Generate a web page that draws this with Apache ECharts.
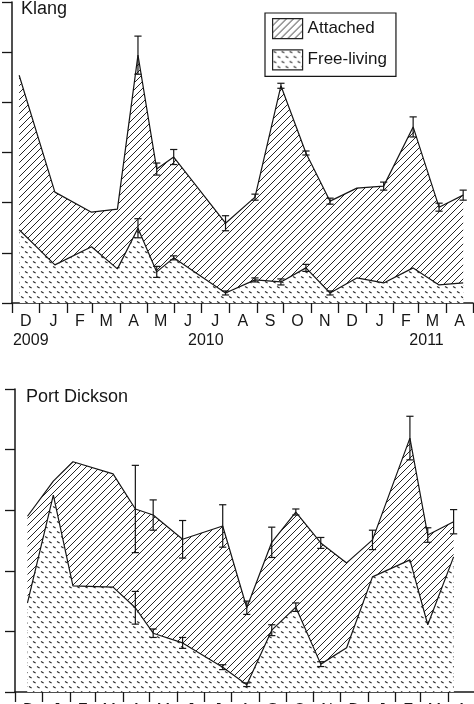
<!DOCTYPE html>
<html><head><meta charset="utf-8">
<script src="https://cdn.jsdelivr.net/npm/echarts@6/dist/echarts.min.js"></script>
<style>html,body{margin:0;padding:0;background:#fff}#c{width:474px;height:704px}</style>
</head><body><div id="c"></div>
<script>
// ---- tick labels ----
const monthLabels = ['D','J','F','M','A','M','J','J','A','S','O','N','D','J','F','M','A'];
const monthStarts = ['2009-12-01','2010-01-01','2010-02-01','2010-03-01','2010-04-01','2010-05-01','2010-06-01','2010-07-01','2010-08-01','2010-09-01','2010-10-01','2010-11-01','2010-12-01','2011-01-01','2011-02-01','2011-03-01','2011-04-01','2011-05-01'];
const yearLabels = ['2009','2010','2011'];
const yearLabelDates = ['2009-12-22','2010-07-06','2011-03-10'];

// ---- Klang ----
const klangDates = ['2009-12-09','2010-01-18','2010-02-28','2010-03-29','2010-04-21','2010-05-12','2010-05-31','2010-07-28','2010-08-30','2010-09-28','2010-10-26','2010-11-22','2010-12-22','2011-01-21','2011-02-23','2011-03-24','2011-04-20'];
const klangAttached    = [4.54,2.21,1.81,1.87,4.94,2.67,2.91,1.59,2.11,4.33,2.99,2.03,2.29,2.33,3.51,1.91,2.15];
const klangAttachedErr = [null,null,null,null,0.38,0.12,0.15,0.15,0.06,0.05,0.04,0.06,null,0.08,0.20,0.08,0.10];
const klangFree        = [1.46,0.76,1.12,0.68,1.49,0.62,0.90,0.20,0.46,0.42,0.70,0.20,0.50,0.40,0.70,0.36,0.40];
const klangFreeErr     = [null,null,null,null,0.19,0.11,0.04,0.04,0.04,0.06,0.07,0.04,null,null,null,null,null];

// ---- Port Dickson ----
const pdDates = ['2009-12-15','2010-01-13','2010-02-04','2010-03-21','2010-04-15','2010-05-05','2010-06-07','2010-07-22','2010-08-18','2010-09-15','2010-10-12','2010-11-09','2010-12-08','2011-01-06','2011-02-17','2011-03-09','2011-04-07'];
const pdAttached    = [2.90,3.48,3.80,3.60,3.02,2.92,2.52,2.74,1.39,2.47,2.97,2.46,2.13,2.51,4.19,2.59,2.81];
const pdAttachedErr = [null,null,null,null,0.72,0.25,0.31,0.35,0.11,0.25,0.05,0.09,null,0.16,0.36,0.12,0.20];
const pdFree        = [1.47,3.25,1.75,1.73,1.39,0.97,0.81,0.41,0.12,1.02,1.40,0.46,0.73,1.90,2.18,1.11,2.23];
const pdFreeErr     = [null,null,null,null,0.27,0.07,0.09,0.04,0.03,0.09,0.07,0.04,null,null,null,null,null];

const FONT = '"Liberation Sans", Arial, Helvetica, sans-serif';
const INK = '#161616';

function ts(s){ const p = s.split('-').map(Number); return Date.UTC(p[0], p[1]-1, p[2]); }
const starts = monthStarts.map(ts);
const mids = monthLabels.map((_, i) => (starts[i] + starts[i+1]) / 2);
const midLabel = {}; mids.forEach((m, i) => { midLabel[String(m)] = monthLabels[i]; });
const yearPos = yearLabelDates.map(ts);
const yearLabel = {}; yearPos.forEach((p, i) => { yearLabel[String(p)] = yearLabels[i]; });
const xMin = starts[0], xMax = starts[starts.length - 1];

function hatch(){
  const n = 7, c = document.createElement('canvas'); c.width = n; c.height = n;
  const g = c.getContext('2d'); g.fillStyle = '#fff'; g.fillRect(0,0,n,n);
  g.strokeStyle = '#1a1a1a'; g.lineWidth = 0.95;
  g.beginPath();
  g.moveTo(-1, n+1); g.lineTo(n+1, -1);
  g.moveTo(-1, 1); g.lineTo(1, -1);
  g.moveTo(n-1, n+1); g.lineTo(n+1, n-1);
  g.stroke();
  return {image: c, repeat: 'repeat'};
}
function dashes(){
  const w = 8, h = 10, c = document.createElement('canvas'); c.width = w; c.height = h;
  const g = c.getContext('2d'); g.fillStyle = '#fff'; g.fillRect(0,0,w,h);
  g.strokeStyle = '#2a2a2a'; g.lineWidth = 1.1;
  g.beginPath();
  g.moveTo(1.0, 1.5); g.lineTo(3.6, 3.0);
  g.moveTo(5.0, 6.5); g.lineTo(7.6, 8.0);
  g.stroke();
  return {image: c, repeat: 'repeat'};
}
const HATCH = hatch(), DASH = dashes();

function pairs(dates, vals){ return dates.map((d, i) => [ts(d), vals[i]]); }
function errData(dates, vals, errs){
  const out = [];
  dates.forEach((d, i) => { if (errs[i] != null) out.push([ts(d), vals[i] - errs[i], vals[i] + errs[i]]); });
  return out;
}
function renderErr(params, api){
  const x = api.value(0), lo = api.value(1), hi = api.value(2);
  const a = api.coord([x, lo]), b = api.coord([x, hi]);
  const hw = 3.6, st = {stroke: INK, lineWidth: 1.2};
  return {type: 'group', children: [
    {type: 'line', shape: {x1: a[0], y1: a[1], x2: b[0], y2: b[1]}, style: st},
    {type: 'line', shape: {x1: a[0]-hw, y1: a[1], x2: a[0]+hw, y2: a[1]}, style: st},
    {type: 'line', shape: {x1: b[0]-hw, y1: b[1], x2: b[0]+hw, y2: b[1]}, style: st}
  ]};
}

function monthAxis(gridIndex){
  return {
    type: 'value', gridIndex, position: 'bottom', min: xMin, max: xMax,
    axisLine: {show: true, onZero: false, lineStyle: {color: INK, width: 1.5}},
    axisTick: {show: true, length: 10, customValues: starts, lineStyle: {color: INK, width: 1.3}},
    axisLabel: {show: true, customValues: mids, margin: 11, fontSize: 16, color: INK, fontFamily: FONT,
      formatter: v => midLabel[String(v)] || ''},
    splitLine: {show: false}
  };
}
function yAx(gridIndex, max){
  return {
    type: 'value', gridIndex, min: 0, max, interval: 1,
    axisLine: {show: true, lineStyle: {color: INK, width: 1.5}},
    axisTick: {show: true, length: 10, lineStyle: {color: INK, width: 1.3}},
    axisLabel: {show: false}, splitLine: {show: false}
  };
}
function areaSeries(name, xi, yi, data, pattern, z){
  return {
    name, type: 'line', xAxisIndex: xi, yAxisIndex: yi, data, symbol: 'none', z,
    lineStyle: {color: INK, width: 1.2}, itemStyle: {color: pattern},
    areaStyle: {color: pattern, opacity: 1, origin: 'start'}, silent: true, animation: false
  };
}
function errSeries(xi, yi, data){
  return {type: 'custom', xAxisIndex: xi, yAxisIndex: yi, renderItem: renderErr, data,
    encode: {x: 0, y: [1, 2]}, z: 10, silent: true, animation: false};
}

const chart = echarts.init(document.getElementById('c'), null, {renderer: 'canvas'});
chart.setOption({
  backgroundColor: '#fff',
  animation: false,
  textStyle: {fontFamily: FONT},
  title: [
    {text: 'Klang', left: 21, top: 0, padding: 0, textStyle: {fontSize: 18, fontWeight: 'normal', color: INK, fontFamily: FONT}},
    {text: 'Port Dickson', left: 26, top: 388, padding: 0, textStyle: {fontSize: 18, fontWeight: 'normal', color: INK, fontFamily: FONT}}
  ],
  legend: {
    orient: 'vertical', left: 265, top: 13, padding: [5, 9, 6, 7], itemGap: 10,
    itemWidth: 30, itemHeight: 20, borderColor: INK, borderWidth: 1.2, backgroundColor: '#fff',
    selectedMode: false,
    textStyle: {fontSize: 17, color: INK, fontFamily: FONT},
    data: [
      {name: 'Attached', icon: 'rect', itemStyle: {color: HATCH, borderColor: '#222', borderWidth: 1.2}},
      {name: 'Free-living', icon: 'rect', itemStyle: {color: DASH, borderColor: '#222', borderWidth: 1.2}}
    ]
  },
  grid: [
    {left: 12, top: 2, width: 461, height: 301, outerBoundsMode: 'none', containLabel: false},
    {left: 15, top: 389, width: 460, height: 303, outerBoundsMode: 'none', containLabel: false}
  ],
  xAxis: [
    monthAxis(0),
    {type: 'value', gridIndex: 0, position: 'bottom', min: xMin, max: xMax,
      axisLine: {show: false}, axisTick: {show: false}, splitLine: {show: false},
      axisLabel: {show: true, customValues: yearPos, margin: 30, fontSize: 16, color: INK, fontFamily: FONT,
        formatter: v => yearLabel[String(v)] || ''}},
    monthAxis(1)
  ],
  yAxis: [yAx(0, 6), yAx(1, 5)],
  series: [
    areaSeries('Attached', 0, 0, pairs(klangDates, klangAttached), HATCH, 2),
    areaSeries('Free-living', 0, 0, pairs(klangDates, klangFree), DASH, 3),
    errSeries(0, 0, errData(klangDates, klangAttached, klangAttachedErr)),
    errSeries(0, 0, errData(klangDates, klangFree, klangFreeErr)),
    areaSeries('Attached', 2, 1, pairs(pdDates, pdAttached), HATCH, 2),
    areaSeries('Free-living', 2, 1, pairs(pdDates, pdFree), DASH, 3),
    errSeries(2, 1, errData(pdDates, pdAttached, pdAttachedErr)),
    errSeries(2, 1, errData(pdDates, pdFree, pdFreeErr))
  ]
});
</script></body></html>
